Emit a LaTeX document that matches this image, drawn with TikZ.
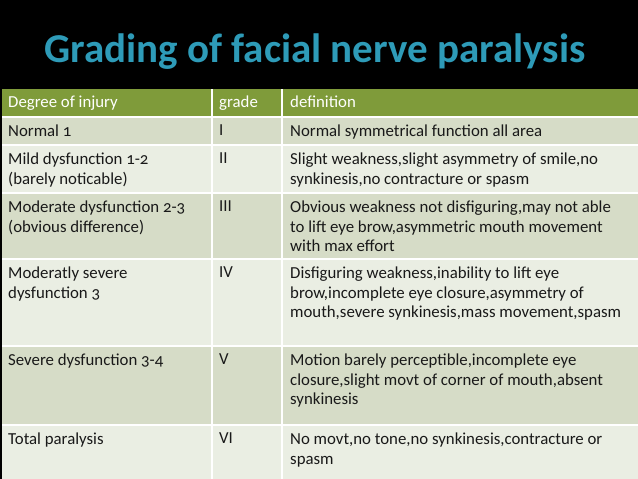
\documentclass[tikz,border=0pt]{standalone}
\usepackage{fontspec}
\setmainfont[Numbers=OldStyle]{Carlito}
\definecolor{hdr}{HTML}{7F9B3A}
\definecolor{rowa}{HTML}{D6DCC7}
\definecolor{rowb}{HTML}{EAEEE3}
\definecolor{ttl}{HTML}{2E9BB8}
\begin{document}
\begin{tikzpicture}[x=1pt,y=-1pt,
  cell/.style={anchor=north west,inner sep=0pt,align=left,font=\fontsize{16.8}{19.5}\selectfont,text=black!90},
  hcell/.style={cell,text=white},
  sep/.style={draw=white,line width=1.2pt}]
\useasboundingbox (0,0) rectangle (638,479);
\fill[black] (0,0) rectangle (638,479);
\node[text=ttl,font=\fontsize{41}{46}\bfseries\selectfont] (title) at (315,52) {Grading of facial nerve paralysis};
\fill[hdr] (2,89) rectangle (638,117);
\fill[rowa] (2,117) rectangle (638,145);
\fill[rowb] (2,145) rectangle (638,193);
\fill[rowa] (2,193) rectangle (638,259);
\fill[rowb] (2,259) rectangle (638,346);
\fill[rowa] (2,346) rectangle (638,425);
\fill[rowb] (2,425) rectangle (638,479);
\foreach \y in {117,145,193,259,346,425} \draw[sep] (2,\y) -- (638,\y);
\draw[sep] (212,89) -- (212,479);
\draw[sep] (282,89) -- (282,479);
\node[hcell] (h1) at (8,96) {Degree of injury};
\node[hcell] (h2) at (219,96) {grade};
\node[hcell] (h3) at (290,96) {definition};
\node[cell] (a1) at (8,125) {Normal 1};
\node[cell] (b1) at (219,125) {I};
\node[cell] (c1) at (290,125) {Normal symmetrical function all area};
\node[cell] (a2) at (8,153) {Mild dysfunction 1-2\\(barely noticable)};
\node[cell] (b2) at (219,153) {II};
\node[cell] (c2) at (290,153) {Slight weakness,slight asymmetry of smile,no\\synkinesis,no contracture or spasm};
\node[cell] (a3) at (8,201) {Moderate dysfunction 2-3\\(obvious difference)};
\node[cell] (b3) at (219,201) {III};
\node[cell] (c3) at (290,201) {Obvious weakness not disfiguring,may not able\\to lift eye brow,asymmetric mouth movement\\with max effort};
\node[cell] (a4) at (8,267) {Moderatly severe\\dysfunction 3};
\node[cell] (b4) at (219,267) {IV};
\node[cell] (c4) at (290,267) {Disfiguring weakness,inability to lift eye\\brow,incomplete eye closure,asymmetry of\\mouth,severe synkinesis,mass movement,spasm};
\node[cell] (a5) at (8,354) {Severe dysfunction 3-4};
\node[cell] (b5) at (219,354) {V};
\node[cell] (c5) at (290,354) {Motion barely perceptible,incomplete eye\\closure,slight movt of corner of mouth,absent\\synkinesis};
\node[cell] (a6) at (8,433) {Total paralysis};
\node[cell] (b6) at (219,433) {VI};
\node[cell] (c6) at (290,433) {No movt,no tone,no synkinesis,contracture or\\spasm};
\end{tikzpicture}
\end{document}
